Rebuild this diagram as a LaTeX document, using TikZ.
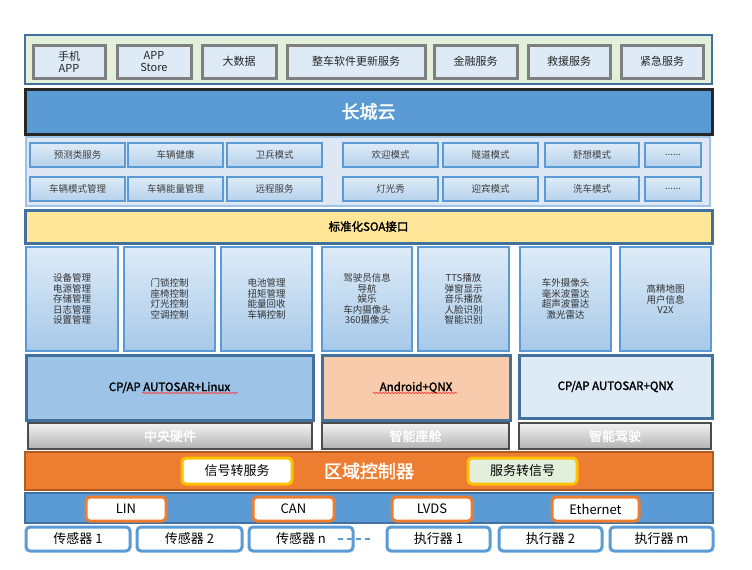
\documentclass[tikz,border=0pt]{standalone}
\usepackage{fontspec}
\setmainfont{Noto Sans CJK SC}[AutoFakeBold=2]
\usepackage{xcolor}
\usetikzlibrary{decorations.pathmorphing}
\definecolor{cBorder}{HTML}{41719C}
\definecolor{cGreen}{HTML}{E2EFDA}
\definecolor{cGray}{HTML}{7F7F7F}
\definecolor{cPale}{HTML}{DEEBF7}
\definecolor{cBlue}{HTML}{5B9BD5}
\definecolor{cSky}{HTML}{9DC3E6}
\definecolor{cSvcBg}{HTML}{DEE7F3}
\definecolor{cYellow}{HTML}{FFE699}
\definecolor{cPeach}{HTML}{F8CBAD}
\definecolor{cOrange}{HTML}{ED7D31}
\definecolor{cOrangeDark}{HTML}{AE5A21}
\definecolor{cGold}{HTML}{FFC000}
\definecolor{cText}{HTML}{262626}

\begin{document}
\begin{tikzpicture}[x=1pt,y=-1pt,inner sep=0pt,
	topframe/.style={draw=cBorder,line width=2pt,fill=cGreen},
	topbox/.style={draw=cGray,line width=3pt,fill=cPale,text=cText,align=center,font=\fontsize{11}{12}\selectfont},
	cloud/.style={draw=black!85,line width=3pt,fill=cBlue,text=white,font=\fontsize{18}{20}\selectfont\bfseries},
	svcframe/.style={draw=cSky,line width=2pt,fill=cSvcBg},
	svcbox/.style={draw=cBlue,line width=1.2pt,top color=cPale,bottom color=cSky!75,text=black!75,font=\fontsize{9.5}{11}\selectfont},
	soa/.style={draw=cBorder,line width=3pt,fill=cYellow,font=\fontsize{11.5}{13}\selectfont\bfseries},
	fnbox/.style={draw=cBlue,line width=1.2pt,top color=cPale,bottom color=cSky!90,text=black!80,align=center,font=\fontsize{9.5}{10.5}\selectfont},
	osbox/.style={draw=cBorder,line width=3pt,font=\fontsize{11.5}{13}\selectfont\bfseries},
	hwbox/.style={draw=black!70,line width=1.2pt,top color=black!5,bottom color=black!30,text=white,font=\fontsize{13}{15}\selectfont\bfseries},
	zone/.style={draw=cOrangeDark,line width=2pt,fill=cOrange,text=white,font=\fontsize{18}{20}\selectfont\bfseries},
	convbox/.style={draw=cGold,line width=3pt,rounded corners=4pt,font=\fontsize{13}{15}\selectfont},
	bus/.style={draw=cBorder,line width=2pt,fill=cBlue},
	busbox/.style={draw=cOrange,line width=3pt,fill=white,rounded corners=4pt,font=\fontsize{13}{15}\selectfont},
	devbox/.style={draw=cBlue,line width=3pt,fill=white,rounded corners=4pt,font=\fontsize{13}{15}\selectfont},
	squiggle/.style={draw=red!80,line width=0.6pt,decorate,decoration={snake,amplitude=0.7pt,segment length=3pt}},
	dots/.style={draw=cBlue,line width=1.2pt,dash pattern=on 5pt off 4pt}]
	\useasboundingbox (0,0) rectangle (752,570);
	\node[topframe,minimum width=687,minimum height=49] (apps) at (368.5,59.5) {};
	\node[topbox,minimum width=72,minimum height=33] (phone) at (69,61.5) {手机\\APP};
	\node[topbox,minimum width=74,minimum height=33] (store) at (154,61.5) {APP\\Store};
	\node[topbox,minimum width=74,minimum height=33] (bigdata) at (239,61.5) {大数据};
	\node[topbox,minimum width=138,minimum height=33] (ota) at (356,61.5) {整车软件更新服务};
	\node[topbox,minimum width=83,minimum height=33] (finance) at (475.5,61.5) {金融服务};
	\node[topbox,minimum width=82,minimum height=33] (rescue) at (569,61.5) {救援服务};
	\node[topbox,minimum width=82,minimum height=33] (urgent) at (662,61.5) {紧急服务};
	\node[cloud,minimum width=687,minimum height=45] (cloud) at (368.5,111.5) {长城云};
	\node[svcframe,minimum width=684,minimum height=69] (svc) at (368,171.5) {};
	\node[svcbox,minimum width=95,minimum height=24] (predict) at (77.5,155) {预测类服务};
	\node[svcbox,minimum width=95,minimum height=24] (health) at (175.5,155) {车辆健康};
	\node[svcbox,minimum width=95,minimum height=24] (sentry) at (274.5,155) {卫兵模式};
	\node[svcbox,minimum width=95,minimum height=24] (welcome) at (390.5,155) {欢迎模式};
	\node[svcbox,minimum width=95,minimum height=24] (tunnel) at (490.5,155) {隧道模式};
	\node[svcbox,minimum width=94,minimum height=24] (comfort) at (592,155) {舒想模式};
	\node[svcbox,minimum width=56,minimum height=24] (moreA) at (673,155) {......};
	\node[svcbox,minimum width=95,minimum height=24] (modes) at (77.5,189) {车辆模式管理};
	\node[svcbox,minimum width=95,minimum height=24] (energy) at (175.5,189) {车辆能量管理};
	\node[svcbox,minimum width=95,minimum height=24] (remote) at (274.5,189) {远程服务};
	\node[svcbox,minimum width=95,minimum height=24] (lights) at (390.5,189) {灯光秀};
	\node[svcbox,minimum width=95,minimum height=24] (guest) at (490.5,189) {迎宾模式};
	\node[svcbox,minimum width=94,minimum height=24] (wash) at (592,189) {洗车模式};
	\node[svcbox,minimum width=56,minimum height=24] (moreB) at (673,189) {......};
	\node[soa,minimum width=687,minimum height=33] (soa) at (368.5,226.5) {标准化SOA接口};
	\node[fnbox,minimum width=92,minimum height=104] (device) at (72,299) {设备管理\\电源管理\\存储管理\\日志管理\\设置管理};
	\node[fnbox,minimum width=91,minimum height=104] (body) at (169.5,299) {门锁控制\\座椅控制\\灯光控制\\空调控制};
	\node[fnbox,minimum width=91,minimum height=104] (power) at (266.5,299) {电池管理\\扭矩管理\\能量回收\\车辆控制};
	\node[fnbox,minimum width=90,minimum height=104] (driver) at (367,299) {驾驶员信息\\导航\\娱乐\\车内摄像头\\360摄像头};
	\node[fnbox,minimum width=91,minimum height=104] (media) at (463.5,299) {TTS播放\\弹窗显示\\音乐播放\\人脸识别\\智能识别};
	\node[fnbox,minimum width=91,minimum height=104] (sensing) at (565.5,299) {车外摄像头\\毫米波雷达\\超声波雷达\\激光雷达};
	\node[fnbox,minimum width=91,minimum height=104] (maps) at (665.5,299) {高精地图\\用户信息\\V2X};
	\node[osbox,fill=cSky,minimum width=287,minimum height=65] (linux) at (169.5,387.5) {CP/AP AUTOSAR+Linux};
	\node[osbox,fill=cPeach,minimum width=188,minimum height=65] (android) at (416,387.5) {Android+QNX};
	\node[osbox,fill=cPale,minimum width=193,minimum height=63] (qnx) at (615.5,386.5) {CP/AP AUTOSAR+QNX};
	\coordinate (wavyA) at (142,393);
	\coordinate (wavyB) at (238,393);
	\coordinate (wavyC) at (373,393);
	\coordinate (wavyD) at (457,393);
	\draw[squiggle] (wavyA) -- (wavyB);
	\draw[squiggle] (wavyC) -- (wavyD);
	\node[hwbox,minimum width=284,minimum height=26] (central) at (170,436) {中央硬件};
	\node[hwbox,minimum width=187,minimum height=26] (cockpit) at (415.5,436) {智能座舱};
	\node[hwbox,minimum width=192,minimum height=26] (adas) at (615,436) {智能驾驶};
	\node[zone,minimum width=688,minimum height=38] (zone) at (369,471) {区域控制器};
	\node[convbox,fill=white,minimum width=110,minimum height=26] (sigsrv) at (237,471) {信号转服务};
	\node[convbox,fill=cGreen,minimum width=109,minimum height=26] (srvsig) at (522.5,471) {服务转信号};
	\node[bus,minimum width=688,minimum height=30] (bus) at (369,508) {};
	\node[busbox,minimum width=80,minimum height=24] (lin) at (126,509) {LIN};
	\node[busbox,minimum width=81,minimum height=24] (can) at (293.5,509) {CAN};
	\node[busbox,minimum width=80,minimum height=24] (lvds) at (432,509) {LVDS};
	\node[busbox,minimum width=87,minimum height=24] (eth) at (595.5,509) {Ethernet};
	\node[devbox,minimum width=104,minimum height=24] (sensA) at (78,539) {传感器 1};
	\node[devbox,minimum width=105,minimum height=24] (sensB) at (189.5,539) {传感器 2};
	\node[devbox,minimum width=104,minimum height=24] (sensN) at (301,539) {传感器 n};
	\node[devbox,minimum width=103,minimum height=24] (actA) at (438.5,539) {执行器 1};
	\node[devbox,minimum width=103,minimum height=24] (actB) at (550.5,539) {执行器 2};
	\node[devbox,minimum width=103,minimum height=24] (actM) at (661.5,539) {执行器 m};
	\coordinate (dotsA) at (338,539);
	\coordinate (dotsB) at (372,539);
	\draw[dots] (dotsA) -- (dotsB);
\end{tikzpicture}
\end{document}
